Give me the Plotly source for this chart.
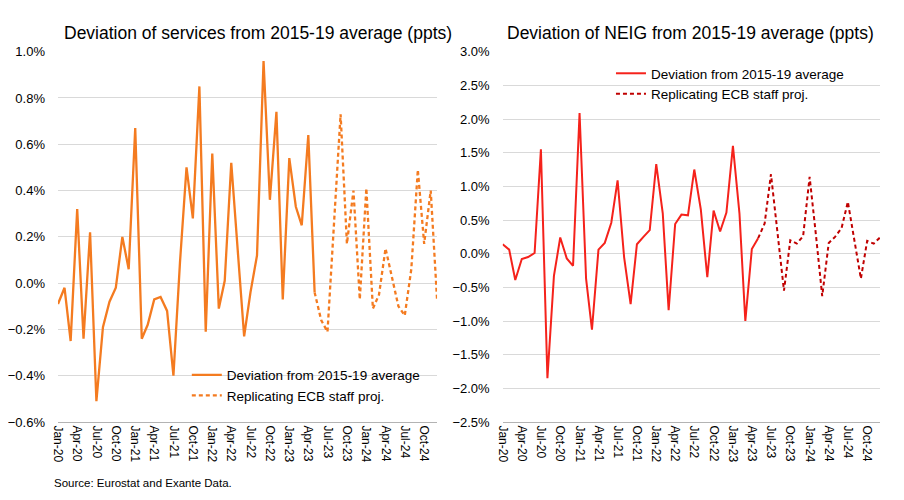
import pandas as pd
import plotly.graph_objects as go

# ── Data (ppts deviation from 2015-19 average) ───────────────────────────────
months = pd.date_range("2020-01-01", "2024-12-01", freq="MS")

# Services: actual Jan-20 .. May-23, projection Jun-23 .. Dec-24
serv_actual = [
    -0.09, -0.02, -0.25, 0.32, -0.24, 0.22, -0.51, -0.19, -0.08, -0.02,
    0.20, 0.06, 0.67, -0.24, -0.18, -0.07, -0.06, -0.12, -0.40, 0.09,
    0.50, 0.28, 0.85, -0.21, 0.56, -0.11, 0.01, 0.52, 0.15, -0.23,
    -0.04, 0.12, 0.96, 0.36, 0.74, -0.07, 0.54, 0.33, 0.25, 0.64,
    -0.04,
]
serv_proj = [
    -0.16, -0.21, 0.26, 0.73, 0.17, 0.40, -0.07, 0.41, -0.11, -0.05,
    0.15, 0.02, -0.10, -0.14, 0.06, 0.49, 0.17, 0.40, -0.07,
]

# NEIG: actual Jan-20 .. May-23, projection Jun-23 .. Dec-24
neig_actual = [
    0.14, 0.06, -0.39, -0.08, -0.05, 0.01, 1.55, -1.85, -0.33, 0.24,
    -0.07, -0.18, 2.09, -0.37, -1.13, 0.06, 0.16, 0.46, 1.09, -0.05,
    -0.75, 0.14, 0.25, 0.35, 1.33, 0.60, -0.84, 0.44, 0.58, 0.57,
    1.25, 0.66, -0.35, 0.64, 0.33, 0.61, 1.60, 0.60, -1.00, 0.07,
    0.23,
]
neig_proj = [
    0.45, 1.18, 0.31, -0.55, 0.20, 0.15, 0.26, 1.14, 0.25, -0.63,
    0.16, 0.25, 0.38, 0.77, 0.20, -0.37, 0.19, 0.15, 0.24,
]

n_act = len(serv_actual)
x_act = months[:n_act]
x_proj = months[n_act - 1:]

# ── Styles ───────────────────────────────────────────────────────────────────
ORANGE = "#F47B20"
RED = "#F5221B"
DARKRED = "#C00000"
GRID = "#D9D9D9"
AXIS = "#B3B3B3"
FONT = "Liberation Sans, Arial, sans-serif"

fig = go.Figure()

fig.add_trace(go.Scatter(x=x_act, y=serv_actual, mode="lines",
                         name="Deviation from 2015-19 average",
                         line=dict(color=ORANGE, width=2.3),
                         xaxis="x", yaxis="y", legend="legend"))
fig.add_trace(go.Scatter(x=x_proj, y=[serv_actual[-1]] + serv_proj, mode="lines",
                         name="Replicating ECB staff proj.",
                         line=dict(color=ORANGE, width=2.3, dash="4px,3px"),
                         xaxis="x", yaxis="y", legend="legend"))
fig.add_trace(go.Scatter(x=x_act, y=neig_actual, mode="lines",
                         name="Deviation from 2015-19 average",
                         line=dict(color=RED, width=2),
                         xaxis="x2", yaxis="y2", legend="legend2"))
fig.add_trace(go.Scatter(x=x_proj, y=[neig_actual[-1]] + neig_proj, mode="lines",
                         name="Replicating ECB staff proj.",
                         line=dict(color=DARKRED, width=2, dash="4px,3px"),
                         xaxis="x2", yaxis="y2", legend="legend2"))

xcommon = dict(type="date", range=[months[0], months[-1]],
               tick0="2020-01-01", dtick="M3", tickformat="%b-%y",
               tickangle=90, showgrid=False, showline=True, linecolor=AXIS,
               linewidth=1, ticks="", tickfont=dict(size=12, color="#000"),
               zeroline=False, fixedrange=True, automargin=False)
ycommon = dict(showgrid=True, gridcolor=GRID, gridwidth=1, zeroline=False,
               ticksuffix="%", tickformat=".1f", ticks="", ticklabelstandoff=12,
               tickfont=dict(size=13, color="#000"), fixedrange=True,
               automargin=False)

# page body has an 8px margin, so positions below are reference px - 8
BOT, TOP = 0.172, 0.9126

fig.update_layout(
    width=904, height=500,
    margin=dict(l=0, r=0, t=0, b=0),
    paper_bgcolor="white", plot_bgcolor="white",
    font=dict(family=FONT, color="#000"),
    xaxis=dict(domain=[0.0553, 0.4746], anchor="y", **xcommon),
    yaxis=dict(domain=[BOT, TOP], anchor="x", range=[-0.6, 1.0], dtick=0.2, **ycommon),
    xaxis2=dict(domain=[0.5472, 0.9646], anchor="y2", **xcommon),
    yaxis2=dict(domain=[BOT, TOP], anchor="x2", range=[-2.5, 3.0], dtick=0.5, **ycommon),
    legend=dict(x=0.1978, y=0.245, xanchor="left", yanchor="middle",
                bgcolor="rgba(0,0,0,0)", font=dict(size=13.5, family=FONT),
                tracegroupgap=0, itemwidth=30),
    legend2=dict(x=0.667, y=0.848, xanchor="left", yanchor="middle",
                 bgcolor="rgba(0,0,0,0)", font=dict(size=13.5, family=FONT),
                 tracegroupgap=0, itemwidth=30),
    showlegend=True,
)

title_font = dict(size=17.5, family=FONT, color="#000")
fig.add_annotation(text="Deviation of services from 2015-19 average (ppts)",
                   x=250 / 904, y=0.95, xref="paper", yref="paper",
                   xanchor="center", yanchor="middle", showarrow=False, font=title_font)
fig.add_annotation(text="Deviation of NEIG from 2015-19 average (ppts)",
                   x=682 / 904, y=0.95, xref="paper", yref="paper",
                   xanchor="center", yanchor="middle", showarrow=False, font=title_font)
fig.add_annotation(text="Source: Eurostat and Exante Data.",
                   x=44 / 904, y=1 - 475 / 500, xref="paper", yref="paper",
                   xanchor="left", yanchor="middle", showarrow=False,
                   font=dict(size=11.5, family=FONT, color="#000"))

fig.write_html("out.html")
